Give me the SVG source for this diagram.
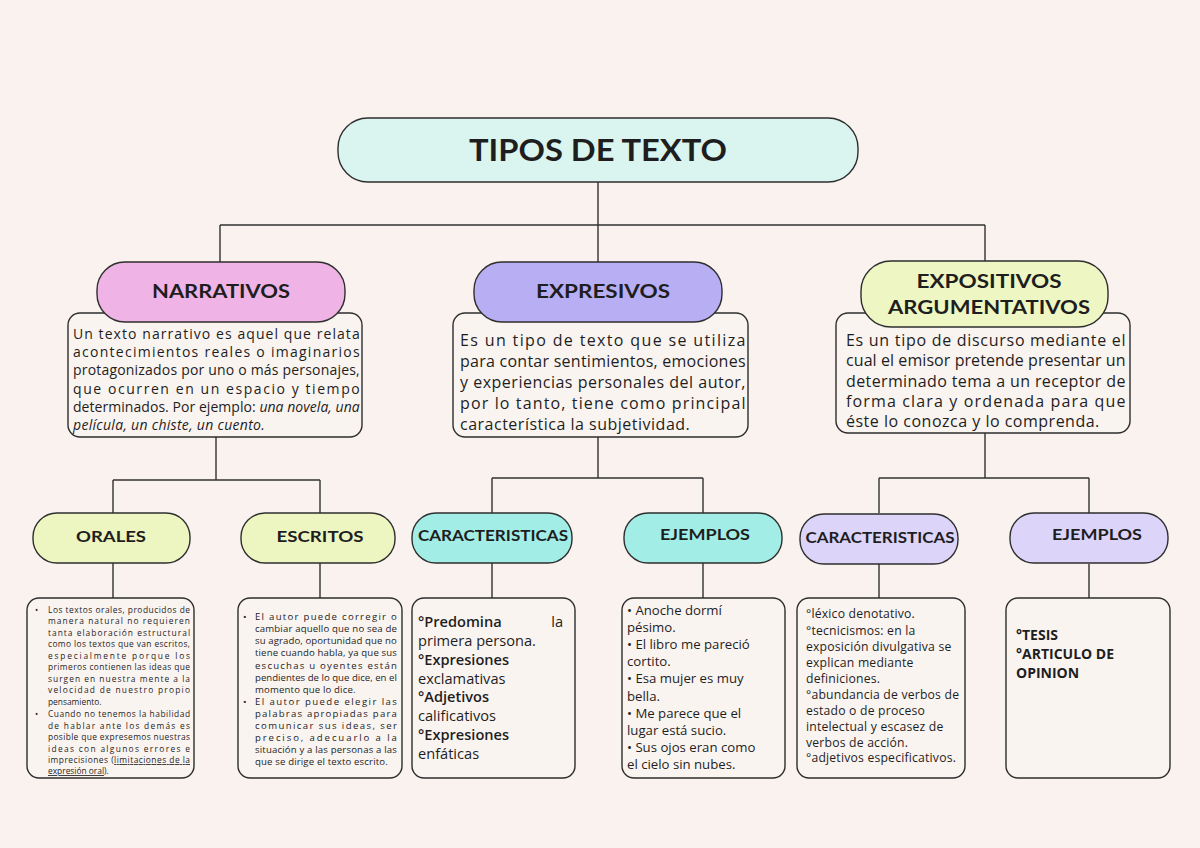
<svg xmlns="http://www.w3.org/2000/svg" width="1200" height="848" viewBox="0 0 1200 848">
<style>
.bg{fill:#f9f2ef}
.pill{stroke:#2e2e2e;stroke-width:1.4}
.box{fill:#faf4f1;stroke:#2e2e2e;stroke-width:1.4}
.con{fill:none;stroke:#333;stroke-width:1.4}
text{font-family:"Open Sans","Liberation Sans",sans-serif;fill:#1e1e1e}
.t{font-family:Lato,"Open Sans",sans-serif;font-weight:bold;text-anchor:middle}
.p15{font-size:16px;letter-spacing:0.5px}
.p13{font-size:14px;letter-spacing:0.3px}
.s{font-size:8.4px}
.s2{font-size:9.6px;letter-spacing:0.15px}
.c14{font-size:14.6px}
.e13{font-size:13.2px}
.l11{font-size:12.2px;letter-spacing:0.2px}
.b{font-weight:600}
</style>
<rect class="bg" x="0" y="0" width="1200" height="848"/>
<g id="connectors">
<path class="con" d="M598,182 V262 M220,225 H985 M220,225 V262 M985,225 V262"/>
<path class="con" d="M216,437 V480 M113,480 H320 M113,480 V513 M320,480 V513"/>
<path class="con" d="M598,437 V478 M492,478 H703 M492,478 V513 M703,478 V513"/>
<path class="con" d="M985,433 V478 M879,478 H1089 M879,478 V513 M1089,478 V513"/>
<path class="con" d="M113,563 V598 M320,563 V598 M492,563 V598 M703,563 V598 M879,564 V598 M1089,564 V598"/>
</g>
<g id="node-title">
<rect class="pill" x="338" y="118" width="520" height="64" rx="30" fill="#daf4ef"/>
<text class="t" x="598" y="161" font-size="30" textLength="258" lengthAdjust="spacingAndGlyphs">TIPOS DE TEXTO</text>
</g>
<g id="node-narrativos">
<rect class="box" x="68" y="313" width="294" height="124" rx="12"/>
<rect class="pill" x="97" y="262" width="248" height="60" rx="28" fill="#efb4e5"/>
<text class="t" x="221" y="298" font-size="18" textLength="138" lengthAdjust="spacingAndGlyphs">NARRATIVOS</text>
<g class="p13">
<text x="73" y="339" textLength="287" lengthAdjust="spacing">Un texto narrativo es aquel que relata</text>
<text x="73" y="357" textLength="287" lengthAdjust="spacing">acontecimientos reales o imaginarios</text>
<text x="73" y="375" textLength="287" lengthAdjust="spacing">protagonizados por uno o más personajes,</text>
<text x="73" y="394" textLength="287" lengthAdjust="spacing">que ocurren en un espacio y tiempo</text>
<text x="73" y="412" textLength="287" lengthAdjust="spacing">determinados. Por ejemplo: <tspan font-style="italic">una novela, una</tspan></text>
<text x="73" y="430" font-style="italic">película, un chiste, un cuento.</text>
</g>
</g>
<g id="node-expresivos">
<rect class="box" x="453" y="313" width="295" height="124" rx="12"/>
<rect class="pill" x="474" y="262" width="248" height="60" rx="28" fill="#b8aef4"/>
<text class="t" x="603" y="298" font-size="18" textLength="134" lengthAdjust="spacingAndGlyphs">EXPRESIVOS</text>
<g class="p15">
<text x="460" y="346" textLength="286" lengthAdjust="spacing">Es un tipo de texto que se utiliza</text>
<text x="460" y="367" textLength="286" lengthAdjust="spacing">para contar sentimientos, emociones</text>
<text x="460" y="388" textLength="286" lengthAdjust="spacing">y experiencias personales del autor,</text>
<text x="460" y="409" textLength="286" lengthAdjust="spacing">por lo tanto, tiene como principal</text>
<text x="460" y="430">característica la subjetividad.</text>
</g>
</g>
<g id="node-expositivos">
<rect class="box" x="836" y="313" width="294" height="120" rx="12"/>
<rect class="pill" x="861" y="261" width="247" height="66" rx="30" fill="#eef6c3"/>
<text class="t" x="989" y="288" font-size="19" textLength="145" lengthAdjust="spacingAndGlyphs">EXPOSITIVOS</text>
<text class="t" x="989" y="314" font-size="19" textLength="202" lengthAdjust="spacingAndGlyphs">ARGUMENTATIVOS</text>
<g class="p15">
<text x="846" y="346" textLength="280" lengthAdjust="spacing">Es un tipo de discurso mediante el</text>
<text x="846" y="366" textLength="280" lengthAdjust="spacing">cual el emisor pretende presentar un</text>
<text x="846" y="387" textLength="280" lengthAdjust="spacing">determinado tema a un receptor de</text>
<text x="846" y="407" textLength="280" lengthAdjust="spacing">forma clara y ordenada para que</text>
<text x="846" y="427">éste lo conozca y lo comprenda.</text>
</g>
</g>
<g id="node-orales">
<rect class="box" x="27" y="598" width="167" height="180" rx="12"/>
<rect class="pill" x="33" y="513" width="157" height="50" rx="24" fill="#edf5c1"/>
<text class="t" x="111" y="542" font-size="15" textLength="70" lengthAdjust="spacingAndGlyphs">ORALES</text>
<g class="s">
<text x="35" y="613">•</text>
<text x="35" y="717">•</text>
<text x="48" y="613" textLength="142" lengthAdjust="spacing">Los textos orales, producidos de</text>
<text x="48" y="624" textLength="142" lengthAdjust="spacing">manera natural no requieren</text>
<text x="48" y="636" textLength="142" lengthAdjust="spacing">tanta elaboración estructural</text>
<text x="48" y="647" textLength="142" lengthAdjust="spacing">como los textos que van escritos,</text>
<text x="48" y="659" textLength="142" lengthAdjust="spacing">especialmente porque los</text>
<text x="48" y="670" textLength="142" lengthAdjust="spacing">primeros contienen las ideas que</text>
<text x="48" y="682" textLength="142" lengthAdjust="spacing">surgen en nuestra mente a la</text>
<text x="48" y="693" textLength="142" lengthAdjust="spacing">velocidad de nuestro propio</text>
<text x="48" y="705">pensamiento.</text>
<text x="48" y="717" textLength="142" lengthAdjust="spacing">Cuando no tenemos la habilidad</text>
<text x="48" y="729" textLength="142" lengthAdjust="spacing">de hablar ante los demás es</text>
<text x="48" y="740" textLength="142" lengthAdjust="spacing">posible que expresemos nuestras</text>
<text x="48" y="752" textLength="142" lengthAdjust="spacing">ideas con algunos errores e</text>
<text x="48" y="763" textLength="142" lengthAdjust="spacing">imprecisiones (<tspan text-decoration="underline">limitaciones de la</tspan></text>
<text x="48" y="774"><tspan text-decoration="underline">expresión oral</tspan>).</text>
</g>
</g>
<g id="node-escritos">
<rect class="box" x="238" y="598" width="164" height="180" rx="12"/>
<rect class="pill" x="241" y="513" width="154" height="50" rx="24" fill="#edf5c1"/>
<text class="t" x="320" y="542" font-size="15" textLength="87" lengthAdjust="spacingAndGlyphs">ESCRITOS</text>
<g class="s2">
<text x="243" y="620">•</text>
<text x="243" y="705">•</text>
<text x="255" y="620" textLength="142" lengthAdjust="spacing">El autor puede corregir o</text>
<text x="255" y="632" textLength="142" lengthAdjust="spacing">cambiar aquello que no sea de</text>
<text x="255" y="644" textLength="142" lengthAdjust="spacing">su agrado, oportunidad que no</text>
<text x="255" y="656" textLength="142" lengthAdjust="spacing">tiene cuando habla, ya que sus</text>
<text x="255" y="669" textLength="142" lengthAdjust="spacing">escuchas u oyentes están</text>
<text x="255" y="681" textLength="142" lengthAdjust="spacing">pendientes de lo que dice, en el</text>
<text x="255" y="693">momento que lo dice.</text>
<text x="255" y="705" textLength="142" lengthAdjust="spacing">El autor puede elegir las</text>
<text x="255" y="717" textLength="142" lengthAdjust="spacing">palabras apropiadas para</text>
<text x="255" y="729" textLength="142" lengthAdjust="spacing">comunicar sus ideas, ser</text>
<text x="255" y="741" textLength="142" lengthAdjust="spacing">preciso, adecuarlo a la</text>
<text x="255" y="753" textLength="142" lengthAdjust="spacing">situación y a las personas a las</text>
<text x="255" y="765">que se dirige el texto escrito.</text>
</g>
</g>
<g id="node-caracteristicas-expresivos">
<rect class="box" x="412" y="598" width="163" height="180" rx="12"/>
<rect class="pill" x="412" y="513" width="160" height="50" rx="24" fill="#a2ede6"/>
<text class="t" x="493" y="541" font-size="14.5" textLength="150" lengthAdjust="spacingAndGlyphs">CARACTERISTICAS</text>
<g class="c14">
<text x="418" y="627" class="b">°Predomina</text>
<text x="563" y="627" text-anchor="end">la</text>
<text x="418" y="646">primera persona.</text>
<text x="418" y="665" class="b">°Expresiones</text>
<text x="418" y="684">exclamativas</text>
<text x="418" y="702" class="b">°Adjetivos</text>
<text x="418" y="721">calificativos</text>
<text x="418" y="740" class="b">°Expresiones</text>
<text x="418" y="759">enfáticas</text>
</g>
</g>
<g id="node-ejemplos-expresivos">
<rect class="box" x="622" y="598" width="163" height="180" rx="12"/>
<rect class="pill" x="624" y="513" width="158" height="50" rx="24" fill="#a2ede6"/>
<text class="t" x="705" y="540" font-size="15" textLength="90" lengthAdjust="spacingAndGlyphs">EJEMPLOS</text>
<g class="e13">
<text x="627" y="615">• Anoche dormí</text>
<text x="627" y="632">pésimo.</text>
<text x="627" y="649">• El libro me pareció</text>
<text x="627" y="666">cortito.</text>
<text x="627" y="683">• Esa mujer es muy</text>
<text x="627" y="701">bella.</text>
<text x="627" y="718">• Me parece que el</text>
<text x="627" y="735">lugar está sucio.</text>
<text x="627" y="752">• Sus ojos eran como</text>
<text x="627" y="769">el cielo sin nubes.</text>
</g>
</g>
<g id="node-caracteristicas-expositivos">
<rect class="box" x="797" y="598" width="168" height="180" rx="12"/>
<rect class="pill" x="800" y="514" width="158" height="50" rx="24" fill="#ddd4fa"/>
<text class="t" x="880" y="543" font-size="14.5" textLength="149" lengthAdjust="spacingAndGlyphs">CARACTERISTICAS</text>
<g class="l11">
<text x="806" y="618">°léxico denotativo.</text>
<text x="806" y="635">°tecnicismos: en la</text>
<text x="806" y="651">exposición divulgativa se</text>
<text x="806" y="667">explican mediante</text>
<text x="806" y="683">definiciones.</text>
<text x="806" y="699">°abundancia de verbos de</text>
<text x="806" y="715">estado o de proceso</text>
<text x="806" y="731">intelectual y escasez de</text>
<text x="806" y="747">verbos de acción.</text>
<text x="806" y="762">°adjetivos especificativos.</text>
</g>
</g>
<g id="node-ejemplos-expositivos">
<rect class="box" x="1006" y="598" width="164" height="180" rx="12"/>
<rect class="pill" x="1010" y="513" width="158" height="50" rx="24" fill="#ddd4fa"/>
<text class="t" x="1097" y="540" font-size="15" textLength="90" lengthAdjust="spacingAndGlyphs">EJEMPLOS</text>
<g font-size="14" font-weight="bold">
<text x="1016" y="640">°TESIS</text>
<text x="1016" y="659">°ARTICULO DE</text>
<text x="1016" y="678">OPINION</text>
</g>
</g>
</svg>
